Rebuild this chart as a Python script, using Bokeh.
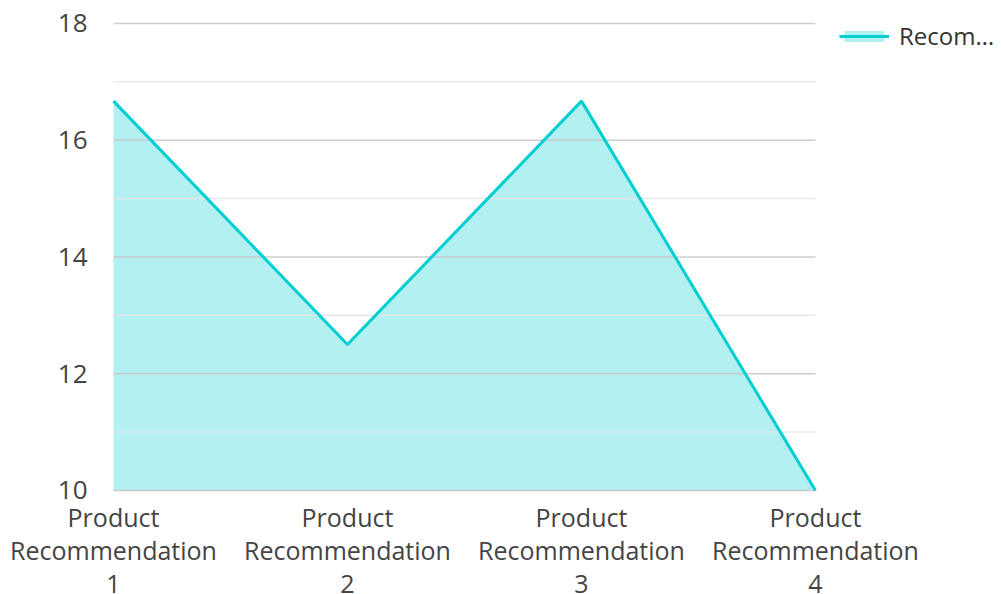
from bokeh.plotting import figure
from bokeh.models import Legend, LegendItem, Range1d
from bokeh.core.properties import value
from bokeh.embed import file_html
from bokeh.resources import INLINE

categories = ["Product\nRecommendation\n1", "Product\nRecommendation\n2",
              "Product\nRecommendation\n3", "Product\nRecommendation\n4"]
values = [16.67, 12.5, 16.67, 10.0]
series_name = "Recom\u2026"
y_ticks = [10, 12, 14, 16, 18]
y_tick_labels = ["10", "12", "14", "16", "18"]
y_minor = [11, 13, 15, 17]

xs = list(range(len(categories)))
x_last = len(categories) - 1
y_base = y_ticks[0]

# the frame spans the whole page so that the legend and all labels are not clipped
p = figure(width=1001, height=594, output_backend="svg", toolbar_location=None,
           x_range=Range1d(-0.4829, 3.795), y_range=Range1d(8.218, 18.394),
           min_border_left=0, min_border_right=0, min_border_top=0, min_border_bottom=0)
p.outline_line_color = None
p.background_fill_color = "white"
p.xgrid.visible = False
p.ygrid.visible = False
p.xaxis.visible = False
p.yaxis.visible = False

FONT = "Open Sans"
color = "#00CED1"

area = p.varea(x=xs, y1=[y_base] * len(xs), y2=values, fill_color=color, fill_alpha=0.3)
p.segment(x0=[0] * len(y_minor), x1=[x_last] * len(y_minor), y0=y_minor, y1=y_minor,
          line_color="#e6e6e6", line_width=1.5, line_alpha=0.9)
p.segment(x0=[0] * len(y_ticks), x1=[x_last] * len(y_ticks), y0=y_ticks, y1=y_ticks,
          line_color="#c8c8c8", line_width=1.5, line_alpha=0.9)
line = p.line(x=xs, y=values, line_color=color, line_width=3)

# category labels under the baseline
p.text(x=xs, y=[y_base] * len(xs), text=categories, text_align="center", text_baseline="top",
       y_offset=10, text_font=value(FONT), text_font_size="25px", text_color="#444444",
       text_line_height=0.96)

# value labels left of the grid
p.text(x=[0] * len(y_ticks), y=y_ticks, text=y_tick_labels, text_align="right",
       text_baseline="middle", x_offset=-26, text_font=value(FONT), text_font_size="26px",
       text_color="#444444")

legend = Legend(items=[LegendItem(label=series_name, renderers=[area, line])],
                location=(839, 542), glyph_width=50, glyph_height=14,
                label_text_font=FONT, label_text_font_size="24px", label_text_color="#333333",
                border_line_color=None, background_fill_alpha=0, padding=0, margin=0,
                label_standoff=10)
p.add_layout(legend, "center")

open("out.html", "w").write(file_html(p, INLINE))
